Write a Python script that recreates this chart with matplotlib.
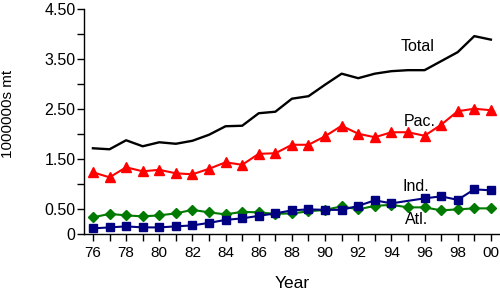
import numpy as np
import matplotlib.pyplot as plt
from matplotlib.ticker import MultipleLocator

plt.rcParams['font.family'] = ['Liberation Sans', 'DejaVu Sans']

# ── Data (1000000s mt) ──────────────────────────────────────────────────────
years = list(range(1976, 2001))
total = [1.72, 1.70, 1.88, 1.76, 1.84, 1.81, 1.87, 1.99, 2.16, 2.17,
         2.42, 2.45, 2.71, 2.76, 2.99, 3.21, 3.12, 3.21, 3.26, 3.28,
         3.28, 3.46, 3.64, 3.96, 3.89]
pacific = [1.24, 1.14, 1.34, 1.26, 1.29, 1.22, 1.20, 1.31, 1.44, 1.39,
           1.61, 1.62, 1.79, 1.79, 1.96, 2.17, 2.01, 1.94, 2.04, 2.04,
           1.97, 2.19, 2.46, 2.51, 2.48]
atlantic = [0.34, 0.41, 0.38, 0.36, 0.38, 0.42, 0.49, 0.44, 0.40, 0.45,
            0.44, 0.41, 0.42, 0.46, 0.49, 0.56, 0.50, 0.57, 0.59, 0.54,
            0.54, 0.48, 0.50, 0.52, 0.52]
# Indian: no point shown for 1995
ind_years = [y for y in years if y != 1995]
indian = [0.12, 0.14, 0.16, 0.14, 0.14, 0.16, 0.18, 0.23, 0.29, 0.32,
          0.37, 0.42, 0.48, 0.50, 0.49, 0.49, 0.57, 0.68, 0.62,
          0.72, 0.76, 0.69, 0.90, 0.88]

x_tick_years = list(range(1976, 2001, 2))
x_tick_labels = [f'{y % 100:02d}' for y in x_tick_years]
y_tick_vals = [0, 0.5, 1.5, 2.5, 3.5, 4.5]
y_tick_labels = ['0', '0.50', '1.50', '2.50', '3.50', '4.50']

# ── Plot ────────────────────────────────────────────────────────────────────
fig = plt.figure(figsize=(5.0, 2.93), dpi=100)
ax = fig.add_axes([0.168, 0.2, 0.832, 0.769])

ax.plot(years, total, color='black', linewidth=1.7)
ax.plot(years, pacific, color='#ff0000', linewidth=1.5,
        marker='^', markersize=7)
ax.plot(years, atlantic, color='#007a00', linewidth=1.5,
        marker='D', markersize=5)
ax.plot(ind_years, indian, color='#000080', linewidth=1.5,
        marker='s', markersize=5.5)

txt = dict(fontsize=11.5, ha='center', va='center')
ax.text(1995.6, 3.75, 'Total', **txt)
ax.text(1995.7, 2.25, 'Pac.', **txt)
ax.text(1995.5, 0.95, 'Ind.', **txt)
ax.text(1995.5, 0.29, 'Atl.', **txt)

ax.set_xlim(1975.46, 2000.55)
ax.set_ylim(0, 4.5)
ax.set_xticks(x_tick_years)
ax.set_xticklabels(x_tick_labels)
ax.xaxis.set_minor_locator(MultipleLocator(1))
ax.set_yticks(y_tick_vals)
ax.set_yticklabels(y_tick_labels)
ax.yaxis.set_minor_locator(MultipleLocator(0.5))

ax.tick_params(axis='both', which='both', direction='out', length=5,
               width=1)
ax.tick_params(axis='x', labelsize=11, pad=3)
ax.tick_params(axis='y', labelsize=11.5, pad=1)

for side in ('top', 'right'):
    ax.spines[side].set_visible(False)
for side in ('left', 'bottom'):
    ax.spines[side].set_linewidth(1)

ax.set_xlabel('Year', fontsize=12.5, labelpad=12)
ax.set_ylabel('1000000s mt', fontsize=11)
ax.yaxis.set_label_coords(-0.166, 0.534)

fig.savefig('out.png', dpi=100)
